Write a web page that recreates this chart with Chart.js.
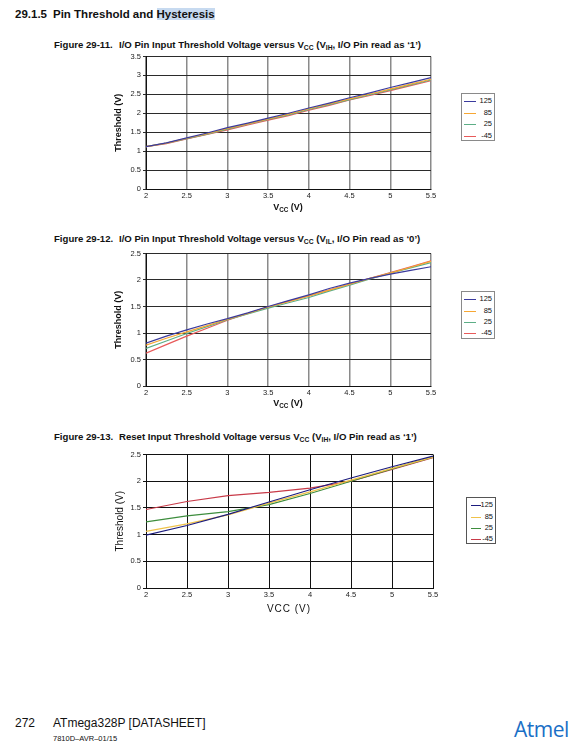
<!DOCTYPE html>
<html>
<head>
<meta charset="utf-8">
<script src="https://cdn.jsdelivr.net/npm/chart.js@4.4.1/dist/chart.umd.min.js"></script>
<style>
  body { margin: 0; width: 576px; height: 750px; background: #fff; position: relative; overflow: hidden;
         font-family: "Liberation Sans", Arial, sans-serif; color: #111; }
  .abs { position: absolute; white-space: nowrap; }
  canvas { position: absolute; }
  .head { font-weight: bold; font-size: 11.5px; }
  .hl { background: #c7daf0; }
  .cap { font-weight: bold; font-size: 9.6px; }
  .cap sub, .xt sub { font-size: 70%; vertical-align: -2px; line-height: 0; }
  .xt { font-weight: bold; font-size: 9px; transform: translateX(-50%); }
  .legend { position: absolute; border: 1px solid #8a8a8a; background: #fff; box-sizing: border-box; }
  .legend .row { position: absolute; left: 0; right: 0; height: 10px; font-size: 7.5px; line-height: 10px; }
  .legend .sw { position: absolute; top: 5px; height: 1.4px; }
  .legend .lb { position: absolute; right: 2px; }
</style>
</head>
<body>

<div class="abs head" style="left:15px;top:8px">29.1.5</div>
<div class="abs head" style="left:53px;top:8px">Pin Threshold and <span class="hl">Hysteresis</span></div>

<div class="abs cap" style="left:54px;top:39px">Figure 29-11.</div>
<div class="abs cap" style="left:119px;top:39px">I/O Pin Input Threshold Voltage versus V<sub>CC</sub> (V<sub>IH</sub>, I/O Pin read as ‘1’)</div>

<div class="abs cap" style="left:54px;top:233px">Figure 29-12.</div>
<div class="abs cap" style="left:119px;top:233px">I/O Pin Input Threshold Voltage versus V<sub>CC</sub> (V<sub>IL</sub>, I/O Pin read as ‘0’)</div>

<div class="abs cap" style="left:54px;top:431px">Figure 29-13.</div>
<div class="abs cap" style="left:119px;top:431px">Reset Input Threshold Voltage versus V<sub>CC</sub> (V<sub>IH</sub>, I/O Pin read as ‘1’)</div>

<canvas id="vihChart" width="335" height="155" style="left:106px;top:50px"></canvas>
<canvas id="vilChart" width="335" height="155" style="left:106px;top:247px"></canvas>
<canvas id="resetChart" width="337" height="156" style="left:106px;top:448px"></canvas>

<div class="abs xt" style="left:288px;top:202px">V<sub>CC</sub> (V)</div>
<div class="abs xt" style="left:288px;top:398px">V<sub>CC</sub> (V)</div>
<div class="abs xt" style="left:289px;top:603px;font-weight:normal;font-size:10px;letter-spacing:1px">VCC (V)</div>

<div id="leg1" class="legend" style="left:461px;top:93px;width:34px;height:48px"></div>
<div id="leg2" class="legend" style="left:461px;top:291px;width:34px;height:48px"></div>
<div id="leg3" class="legend" style="left:466px;top:497px;width:30px;height:47px;border-color:#555"></div>

<div class="abs" style="left:15px;top:716px;font-size:12px">272</div>
<div class="abs" style="left:53px;top:716px;font-size:12px">ATmega328P [DATASHEET]</div>
<div class="abs" style="left:53px;top:734px;font-size:7.5px">7810D–AVR–01/15</div>
<div class="abs" style="left:514px;top:715px;font-size:21px;color:#1a6fc6;letter-spacing:-0.5px;font-family:'Open Sans',sans-serif">Atmel</div>

<script>
// temperatures (legend labels)
const temps = ["125", "85", "25", "-45"];

// VCC sample points
const vccFine = [2, 2.25, 2.5, 2.75, 3, 3.25, 3.5, 3.75, 4, 4.25, 4.5, 4.75, 5, 5.25, 5.5];
const vccReset = [2, 2.5, 3, 3.5, 4, 4.5, 5, 5.5];

// Figure 29-11: VIH
const vih125 = [1.12, 1.22, 1.35, 1.48, 1.62, 1.74, 1.87, 2.00, 2.14, 2.27, 2.41, 2.54, 2.68, 2.81, 2.94];
const vih85  = [1.12, 1.21, 1.34, 1.46, 1.60, 1.72, 1.85, 1.98, 2.12, 2.25, 2.38, 2.51, 2.64, 2.77, 2.90];
const vih25  = [1.12, 1.21, 1.33, 1.45, 1.58, 1.71, 1.84, 1.96, 2.10, 2.23, 2.36, 2.49, 2.62, 2.75, 2.88];
const vihM45 = [1.12, 1.20, 1.32, 1.44, 1.56, 1.69, 1.82, 1.94, 2.08, 2.21, 2.35, 2.47, 2.60, 2.73, 2.86];

// Figure 29-12: VIL
const vil125 = [0.81, 0.94, 1.06, 1.17, 1.27, 1.38, 1.50, 1.61, 1.72, 1.84, 1.94, 2.03, 2.11, 2.18, 2.25];
const vil85  = [0.77, 0.90, 1.02, 1.14, 1.26, 1.37, 1.49, 1.59, 1.70, 1.81, 1.92, 2.03, 2.13, 2.24, 2.35];
const vil25  = [0.71, 0.85, 0.99, 1.12, 1.25, 1.36, 1.47, 1.57, 1.67, 1.79, 1.90, 2.02, 2.13, 2.23, 2.33];
const vilM45 = [0.62, 0.78, 0.94, 1.09, 1.24, 1.37, 1.49, 1.60, 1.70, 1.81, 1.92, 2.03, 2.14, 2.25, 2.36];

// Figure 29-13: reset pin VIH
const rst125 = [0.99, 1.17, 1.38, 1.61, 1.84, 2.06, 2.27, 2.47];
const rst85  = [1.06, 1.20, 1.37, 1.59, 1.80, 2.02, 2.24, 2.45];
const rst25  = [1.24, 1.35, 1.43, 1.56, 1.77, 2.00, 2.23, 2.45];
const rstM45 = [1.47, 1.62, 1.73, 1.79, 1.87, 2.00, 2.22, 2.44];

const ioColors = ["#3b3b9e", "#f7a733", "#5cae86", "#e85a5a"];
const rstColors = ["#1c1c7e", "#efc24a", "#3d8d3d", "#c83a48"];

// plain number labels: 2, 2.5, 3 ... (not 2.0, 3.0)
const plainTick = v => String(v);

function buildChart(id, xs, series, colors, yMax, look) {
  new Chart(document.getElementById(id), {
    type: "line",
    data: {
      datasets: series.map((ys, i) => ({
        label: temps[i],
        data: xs.map((x, j) => ({ x: x, y: ys[j] })),
        borderColor: colors[i],
        borderWidth: 1.2,
        pointRadius: 0,
        tension: 0,
        fill: false
      }))
    },
    options: {
      responsive: false,
      animation: false,
      layout: { padding: { left: 0, top: 6, right: 10, bottom: 0 } },
      plugins: { legend: { display: false }, tooltip: { enabled: false } },
      scales: {
        x: {
          type: "linear", min: 2, max: 5.5,
          ticks: { stepSize: 0.5, color: "#222", padding: 2, callback: plainTick,
                   font: { size: 7.5, family: "Liberation Sans" } },
          grid: { color: look.vGrid, lineWidth: look.vWidth, drawTicks: false },
          border: { color: "#111", width: 1 },
          afterFit: s => { s.height = 16; }
        },
        y: {
          min: 0, max: yMax,
          ticks: { stepSize: 0.5, color: "#222", padding: 2, callback: plainTick,
                   font: { size: 7.5, family: "Liberation Sans" } },
          grid: { color: look.hGrid, lineWidth: 1, tickLength: 3 },
          border: { color: "#111", width: 1 },
          title: {
            display: true, text: "Threshold (V)", color: "#111",
            font: look.titleFont, padding: { top: look.titlePad, bottom: 0 }
          },
          afterFit: s => { s.width = 40; }
        }
      }
    }
  });
}

function buildLegend(id, colors, rows, swLeft, swWidth) {
  const box = document.getElementById(id);
  temps.forEach((t, i) => {
    const row = document.createElement("div");
    row.className = "row";
    row.style.top = rows[i] + "px";
    row.innerHTML = '<span class="sw" style="left:' + swLeft + 'px;width:' + swWidth + 'px;background:' + colors[i] + '"></span>' +
                    '<span class="lb">' + t + '</span>';
    box.appendChild(row);
  });
}

const ioLook = { vGrid: "#8a8a8a", vWidth: 1.5, hGrid: "#2b2b2b",
                 titleFont: { size: 9, weight: "bold", family: "Liberation Sans" }, titlePad: 7 };
const rstLook = { vGrid: "#111", vWidth: 1, hGrid: "#111",
                  titleFont: { size: 10, family: "Liberation Sans" }, titlePad: 8 };

buildChart("vihChart", vccFine, [vih125, vih85, vih25, vihM45], ioColors, 3.5, ioLook);
buildChart("vilChart", vccFine, [vil125, vil85, vil25, vilM45], ioColors, 2.5, ioLook);
buildChart("resetChart", vccReset, [rst125, rst85, rst25, rstM45], rstColors, 2.5, rstLook);

buildLegend("leg1", ioColors, [2, 14, 25, 37], 2, 12);
buildLegend("leg2", ioColors, [2, 14, 25, 36], 2, 12);
buildLegend("leg3", rstColors, [2, 14, 25, 36], 4, 10);
</script>
</body>
</html>
